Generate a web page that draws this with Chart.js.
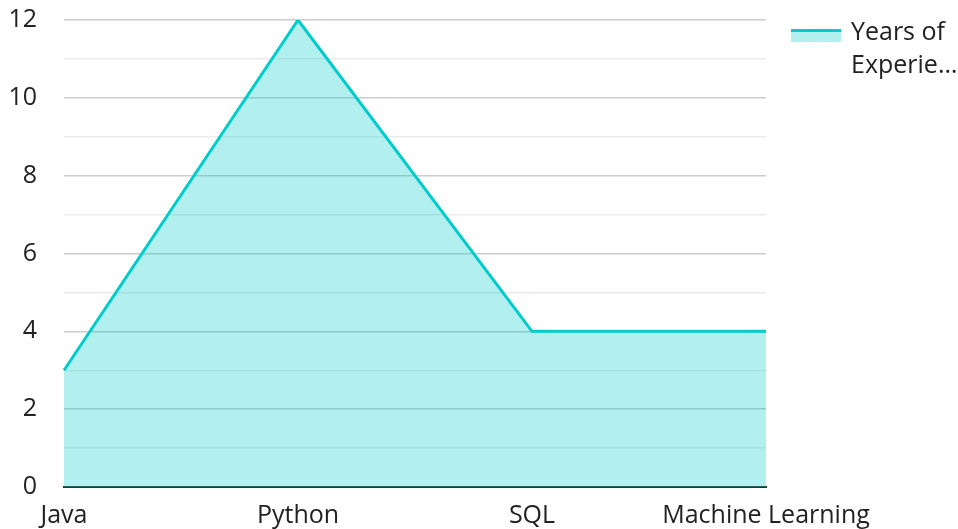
<!DOCTYPE html>
<html>
<head>
<meta charset="utf-8">
<script src="https://cdn.jsdelivr.net/npm/chart.js@4/dist/chart.umd.min.js"></script>
<style>
  html, body { margin: 0; padding: 0; background: #fff; }
  #wrap { position: relative; width: 958px; height: 529px; }
  #legend { position: absolute; left: 791px; top: 14px; font-family: "Open Sans", sans-serif; font-size: 25px; color: #222; line-height: 33px; }
  #legend .swatch { position: absolute; left: 0; top: 15px; width: 50px; height: 13px; background: rgba(0,204,204,0.3); border-top: 3px solid #00cccc; box-sizing: border-box; }
  #legend .text { margin-left: 60px; }
</style>
</head>
<body>
<div id="wrap">
  <canvas id="mycanvas" width="958" height="529"></canvas>
  <div id="legend"><div class="swatch"></div><div class="text">Years of<br>Experie…</div></div>
</div>
<script>
let skills = ["Java", "Python", "SQL", "Machine Learning"];
let years = [3, 12, 4, 4];
let seriesLabel = "Years of Experience";
let yTicks = [0, 2, 4, 6, 8, 10, 12];

let chartdata = {
    labels: skills,
    datasets: [
        {
            label: seriesLabel,
            fill: "origin",
            tension: 0,
            backgroundColor: "rgba(0, 204, 204, 0.3)",
            borderColor: "#00cccc",
            borderWidth: 3,
            pointRadius: 0,
            data: years
        }
    ]
};

let ctx = document.getElementById("mycanvas");

let LineGraph = new Chart(ctx, {
    type: "line",
    data: chartdata,
    options: {
        responsive: false,
        animation: false,
        layout: { padding: { top: 20, right: 192, left: 0, bottom: 0 } },
        plugins: {
            legend: { display: false },
            tooltip: { enabled: false }
        },
        scales: {
            x: {
                offset: false,
                grid: { display: false, drawTicks: false },
                border: { display: true, color: "#333", width: 2 },
                ticks: {
                    color: "#222",
                    padding: 14,
                    maxRotation: 0,
                    autoSkip: false,
                    font: { family: "'Open Sans'", size: 25 }
                },
                afterFit: function(scale) {
                    scale.height = 42;
                    scale.paddingLeft = 0;
                    scale.paddingRight = 0;
                }
            },
            y: {
                min: 0,
                max: 12,
                border: { display: false },
                grid: {
                    drawTicks: false,
                    color: function(c) {
                        let v = c.tick.value;
                        if (v === 0) return "rgba(0,0,0,0)";
                        return yTicks.includes(v) ? "#cccccc" : "#ebebeb";
                    },
                    lineWidth: 1.5
                },
                ticks: {
                    stepSize: 1,
                    color: "#222",
                    padding: 27,
                    font: { family: "'Open Sans'", size: 25 },
                    callback: function(v) { return yTicks.includes(v) ? v : ""; }
                },
                afterFit: function(scale) {
                    scale.width = 64;
                    // tick padding would otherwise push the plot top down
                    scale.paddingTop = 0;
                    scale.paddingBottom = 0;
                }
            }
        }
    }
});
</script>
</body>
</html>
